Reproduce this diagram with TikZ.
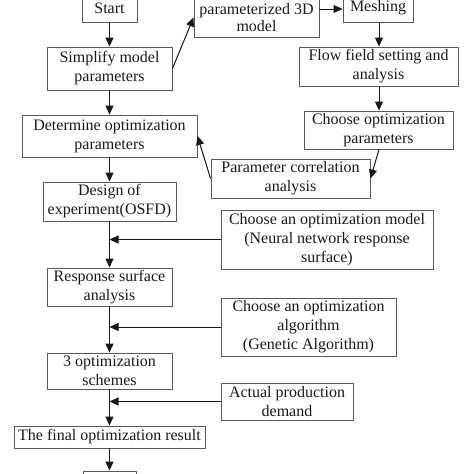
\documentclass[tikz,border=0pt]{standalone}
\usepackage{fontspec}
\setmainfont{Liberation Serif}
\usetikzlibrary{arrows.meta}
\begin{document}
\begin{tikzpicture}[x=1pt,y=-1pt,
  box/.style={draw=black!65, line width=0.9pt, inner sep=0pt, align=center,
    font=\fontsize{16}{19}\selectfont, text=black!90},
  arr/.style={-{Triangle[length=9pt,width=8pt]}, line width=1pt, draw=black!90, fill=black!90},
  ln/.style={line width=1pt, draw=black!90}]
\useasboundingbox (0,0) rectangle (474,474);
\clip (0,0) rectangle (474,474);
% left column
\node[box, minimum width=55pt, minimum height=28pt] (start) at (109.5,8) {Start};
\node[box, minimum width=125pt, minimum height=43pt] (simplify) at (109.5,68.5) {Simplify model\\parameters};
\node[box, minimum width=175pt, minimum height=42pt] (determine) at (109.5,136) {Determine optimization\\parameters};
\node[box, minimum width=133pt, minimum height=39pt] (design) at (109.5,201.5) {Design of\\experiment(OSFD)};
\node[box, minimum width=125pt, minimum height=38pt] (response) at (109.5,287) {Response surface\\analysis};
\node[box, minimum width=125pt, minimum height=36pt] (schemes) at (109.5,371) {3 optimization\\schemes};
\node[box, minimum width=191pt, minimum height=22pt] (final) at (109.5,437) {The final optimization result};
\node[box, minimum width=53pt, minimum height=30pt] (endbox) at (109.5,486) {};
% right column
\node[box, minimum width=125pt, minimum height=40pt, font=\fontsize{16}{17.5}\selectfont] (param3d) at (256.5,17.5) {parameterized 3D\\model};
\node[box, minimum width=70pt, minimum height=30pt] (meshing) at (378,7.5) {Meshing};
\node[box, minimum width=159pt, minimum height=39pt] (flow) at (378.5,66.5) {Flow field setting and\\analysis};
\node[box, minimum width=149pt, minimum height=38pt] (choosep) at (378.5,130) {Choose optimization\\parameters};
\node[box, minimum width=159pt, minimum height=39pt] (corr) at (290.5,178.5) {Parameter correlation\\analysis};
\node[box, minimum width=212pt, minimum height=59pt] (model) at (327,239.5) {Choose an optimization model\\(Neural network response\\surface)};
\node[box, minimum width=175pt, minimum height=58pt] (algo) at (308.5,327) {Choose an optimization\\algorithm\\(Genetic Algorithm)};
\node[box, minimum width=132pt, minimum height=37pt] (actual) at (287,401.5) {Actual production\\demand};
% main flow
\draw[arr] (start) -- (simplify);
\draw[arr] (simplify) -- (determine);
\draw[arr] (determine) -- (design);
\draw[arr] (design) -- (response);
\draw[arr] (response) -- (schemes);
\draw[arr] (schemes) -- (final);
\draw[arr] (final) -- (endbox);
% side inputs
\draw[arr] (model.west) -- (model.west -| design.south);
\draw[arr] (algo.west) -- (algo.west -| design.south);
\draw[arr] (actual.west) -- (actual.west -| design.south);
% right branch
\draw[arr] (simplify.east) -- (param3d.west);
\coordinate (pm) at (param3d.east |- 0,9);
\draw[arr] (pm) -- (pm -| meshing.west);
\draw[arr] (meshing.south -| 379,0) -- (flow.north -| 379,0);
\draw[arr] (flow.south -| 379,0) -- (choosep.north -| 379,0);
\draw[arr] (choosep.south -| 379,0) -- (corr.east);
\draw[arr] (corr.west) -- (determine.east);
\end{tikzpicture}
\end{document}
